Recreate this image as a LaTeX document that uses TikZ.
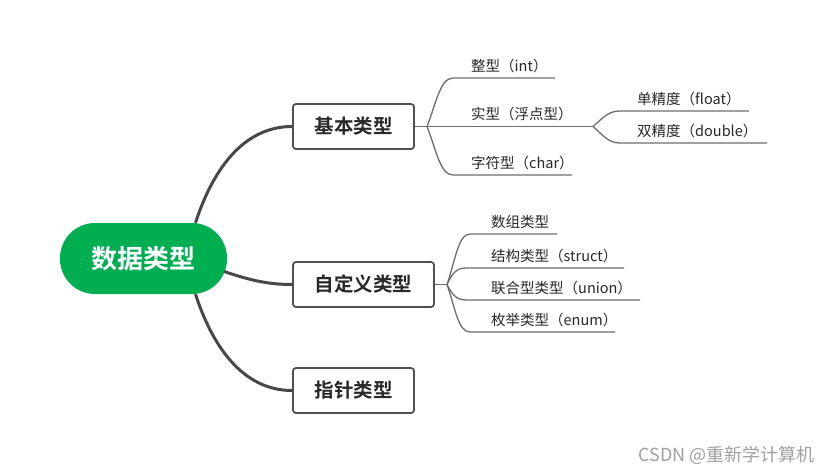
\documentclass[tikz,border=0pt]{standalone}
\usepackage{fontspec}
\setmainfont{Noto Sans CJK SC}
\newfontfamily\cjkbold{Noto Sans CJK SC Bold}
\definecolor{rootgreen}{RGB}{0,174,82}
\definecolor{conn}{RGB}{72,72,72}
\definecolor{boxline}{RGB}{80,80,80}
\definecolor{leafline}{RGB}{110,110,110}
\definecolor{txt}{RGB}{40,40,40}
\definecolor{wm}{RGB}{160,160,160}
\begin{document}
\begin{tikzpicture}[x=1pt,y=-1pt,
  rootnode/.style={fill=rootgreen, rounded corners=35pt, minimum width=167pt, minimum height=71pt, inner sep=0pt, text=white, font=\cjkbold\fontsize{26}{30}\selectfont},
  catbox/.style={draw=boxline, line width=1.8pt, rounded corners=3pt, fill=white, minimum height=45pt, inner sep=0pt, text=txt, font=\cjkbold\fontsize{19.5}{24}\selectfont},
  mainconn/.style={draw=conn, line width=3pt},
  leafconn/.style={draw=leafline, line width=1.3pt},
  leaf/.style={anchor=base west, inner sep=0pt, text=txt, font=\fontsize{14.5}{17}\selectfont},
]
\useasboundingbox (0,0) rectangle (831,472);
\fill[white] (0,0) rectangle (831,472);

% root and categories
\node[rootnode] (root) at (143.5,258.5) {数据类型};
\node[catbox, minimum width=121pt] (basic) at (353.5,126.5) {基本类型};
\node[catbox, minimum width=141pt] (custom) at (363.5,284.5) {自定义类型};
\node[catbox, minimum width=121pt] (ptr) at (353.5,390.5) {指针类型};

\draw[mainconn] ([xshift=52pt]root.north) .. controls (212,172) and (242,126.5) .. (basic.west);
\draw[mainconn] ([xshift=-3pt,yshift=-13pt]root.east) .. controls (252,281) and (270,284.5) .. (custom.west);
\draw[mainconn] ([xshift=52pt]root.south) .. controls (212,345) and (242,390.5) .. (ptr.west);

% basic branch
\coordinate (f1) at (427,126.5);
\coordinate (s1) at (453,78); \coordinate (e1) at (555,78);
\coordinate (f2) at (593,126.5);
\coordinate (s3) at (453,175); \coordinate (e3) at (572,175);
\coordinate (s4) at (620,111); \coordinate (e4) at (749,111);
\coordinate (s5) at (620,143); \coordinate (e5) at (767,143);
\draw[leafconn] (basic.east) -- (f1);
\draw[leafconn] (f1) .. controls (436,104) and (440,78) .. (s1) -- (e1);
\draw[leafconn] (f1) -- (f2);
\draw[leafconn] (f1) .. controls (436,149) and (440,175) .. (s3) -- (e3);
\draw[leafconn] (f2) .. controls (603,118) and (608,111) .. (s4) -- (e4);
\draw[leafconn] (f2) .. controls (603,135) and (608,143) .. (s5) -- (e5);
\node[leaf] (int) at (471,71) {整型（int）};
\node[leaf] (real) at (471,119) {实型（浮点型）};
\node[leaf] (char) at (471,168) {字符型（char）};
\node[leaf] (float) at (637,104) {单精度（float）};
\node[leaf] (double) at (637,136) {双精度（double）};

% custom branch
\coordinate (g1) at (447,284.5);
\coordinate (t1) at (470,234); \coordinate (u1) at (557,234);
\coordinate (t2) at (466,268); \coordinate (u2) at (624,268);
\coordinate (t3) at (466,300); \coordinate (u3) at (640,300);
\coordinate (t4) at (470,332); \coordinate (u4) at (615,332);
\draw[leafconn] (custom.east) -- (g1);
\draw[leafconn] (g1) .. controls (455,262) and (458,234) .. (t1) -- (u1);
\draw[leafconn] (g1) .. controls (452,274) and (456,268) .. (t2) -- (u2);
\draw[leafconn] (g1) .. controls (452,294) and (456,300) .. (t3) -- (u3);
\draw[leafconn] (g1) .. controls (455,307) and (458,332) .. (t4) -- (u4);
\node[leaf] (arr) at (491,227) {数组类型};
\node[leaf] (struct) at (491,261) {结构类型（struct）};
\node[leaf] (union) at (491,293) {联合型类型（union）};
\node[leaf] (enum) at (491,325) {枚举类型（enum）};

% watermark
\node[anchor=base east, inner sep=0pt, text=wm, font=\fontsize{18}{21}\selectfont] (wmark) at (815,461) {CSDN @重新学计算机};
\end{tikzpicture}
\end{document}
